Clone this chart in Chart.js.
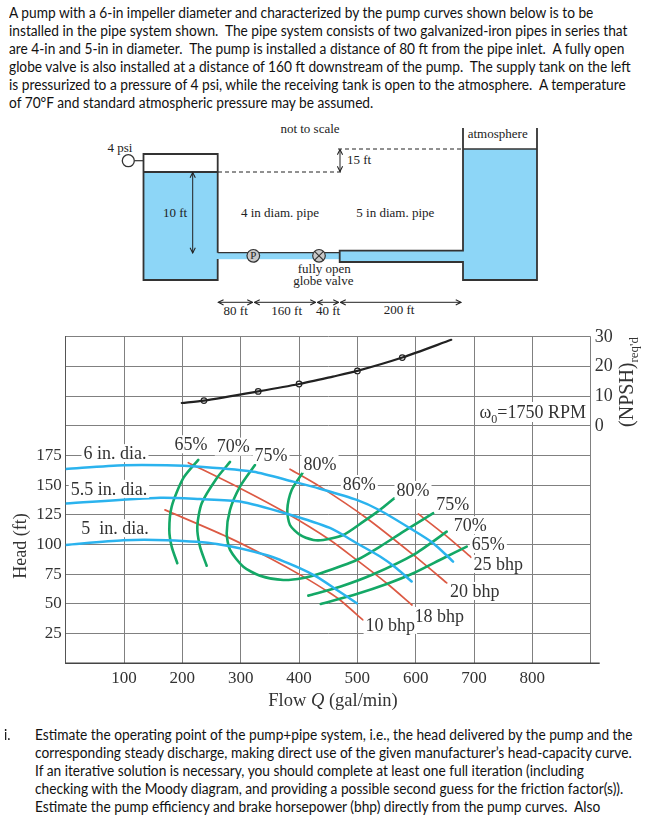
<!DOCTYPE html>
<html>
<head>
<meta charset="utf-8">
<title>Pump and pipe system</title>
<script src="https://cdn.jsdelivr.net/npm/chart.js@4/dist/chart.umd.min.js"></script>
<style>
  html, body { margin: 0; background: #fff; }
  body { position: relative; width: 672px; height: 821px; overflow: hidden; }
  .para { position: absolute; white-space: nowrap; font-family: Lato, sans-serif; font-size: 14.6px; line-height: 18px; color: #111; transform: scaleX(0.94); transform-origin: left center; }
  .serif { position: absolute; white-space: nowrap; font-family: "Liberation Serif", serif; color: #333; font-size: 18px; line-height: 20px; transform: translate(-50%, -50%); }
  .serif sub { font-size: 12px; line-height: 0; }
  #schematic { position: absolute; left: 0; top: 120px; }
  #schematic text { font-family: "Liberation Serif", serif; font-size: 13px; fill: #222; text-anchor: middle; dominant-baseline: middle; transform: translateY(1.5px); }
  #pumpChart { position: absolute; left: 0; top: 322px; }
</style>
</head>
<body>

<div class="para" style="left:9px;top:4px">A pump with a 6-in impeller diameter and characterized by the pump curves shown below is to be</div>
<div class="para" style="left:9px;top:22px">installed in the pipe system shown.&nbsp; The pipe system consists of two galvanized-iron pipes in series that</div>
<div class="para" style="left:9px;top:40px">are 4-in and 5-in in diameter.&nbsp; The pump is installed a distance of 80 ft from the pipe inlet.&nbsp; A fully open</div>
<div class="para" style="left:9px;top:58px">globe valve is also installed at a distance of 160 ft downstream of the pump.&nbsp; The supply tank on the left</div>
<div class="para" style="left:9px;top:76px">is pressurized to a pressure of 4 psi, while the receiving tank is open to the atmosphere.&nbsp; A temperature</div>
<div class="para" style="left:9px;top:94px">of 70°F and standard atmospheric pressure may be assumed.</div>

<!-- tanks and pipe run, not to scale -->
<svg id="schematic" width="672" height="200" viewBox="0 120 672 200">
  <defs>
    <marker id="tip" viewBox="0 0 8 8" refX="7" refY="4" markerWidth="7" markerHeight="7" orient="auto-start-reverse">
      <path d="M1 1 L7 4 L1 7" fill="none" stroke="#222" stroke-width="1.2"/>
    </marker>
  </defs>
  <rect x="143.5" y="172" width="74" height="108" fill="#8dd6f7"/>
  <rect x="463" y="149" width="74" height="131" fill="#8dd6f7"/>
  <rect x="217" y="252.7" width="123" height="6.5" fill="#8dd6f7"/>
  <rect x="339.7" y="251" width="123.5" height="11" fill="#8dd6f7"/>
  <g fill="none" stroke="#333" stroke-width="1.8">
    <path d="M217.7 252.7 V154 H143.5 V280 H217.7 V259"/>
    <path d="M143.5 172 H217.7"/>
    <path d="M463 128 V250.7 H339.7 V262 H463 V280 H537 V128"/>
    <path d="M463 149 H537" stroke-width="1.5"/>
    <path d="M217.7 252.7 H339.7" stroke-width="1.2"/>
    <path d="M143.5 160.7 H134.5" stroke-width="1.2"/>
  </g>
  <circle cx="128.3" cy="160.7" r="6" fill="#fff" stroke="#333" stroke-width="1.3"/>
  <g fill="none" stroke="#222" stroke-width="1" stroke-dasharray="4 3">
    <path d="M218 172 H343"/>
    <path d="M338 149 H463"/>
  </g>
  <g fill="none" stroke="#222" stroke-width="1" marker-start="url(#tip)" marker-end="url(#tip)">
    <path d="M340 149.5 V171.5"/>
    <path d="M192.7 172.5 V253"/>
    <path d="M218.3 302.3 H252.5"/>
    <path d="M254.5 302.3 H315.5"/>
    <path d="M317.5 302.3 H338.5"/>
    <path d="M340.5 302.3 H461"/>
  </g>
  <circle cx="253.3" cy="255.8" r="6.3" fill="#c9c9c9" stroke="#333" stroke-width="1.2"/>
  <circle cx="319" cy="255.8" r="6.3" fill="#c9c9c9" stroke="#333" stroke-width="1.2"/>
  <path d="M314.6 251.4 L323.4 260.2 M323.4 251.4 L314.6 260.2" stroke="#333" stroke-width="1.1"/>
  <text x="253.3" y="255" style="font-size:11px">P</text>
  <text x="310" y="128.5">not to scale</text>
  <text x="120" y="148">4 psi</text>
  <text x="497.7" y="134">atmosphere</text>
  <text x="359" y="160">15 ft</text>
  <text x="175" y="212.5">10 ft</text>
  <text x="280" y="212.5">4 in diam. pipe</text>
  <text x="395.3" y="212.5">5 in diam. pipe</text>
  <text x="324.3" y="269">fully open</text>
  <text x="323.3" y="281">globe valve</text>
  <text x="235.7" y="310.7">80 ft</text>
  <text x="286.7" y="310.7">160 ft</text>
  <text x="328" y="310.7">40 ft</text>
  <text x="399" y="310">200 ft</text>
</svg>

<canvas id="pumpChart" width="672" height="392"></canvas>

<div class="serif" style="left:20px;top:546px;transform:translate(-50%,-50%) rotate(-90deg)">Head (ft)</div>
<div class="serif" style="left:626px;top:382px;font-size:20px;transform:translate(-50%,-50%) rotate(-90deg)">(NPSH)<sub style="font-size:13px">req'd</sub></div>
<div class="serif" style="left:333px;top:700px;font-size:18.5px">Flow <i>Q</i> (gal/min)</div>
<div class="serif" style="left:532.7px;top:411.7px;background:#fff;padding:0 2px">ω<sub>0</sub>=1750 RPM</div>

<div class="para" style="left:4px;top:726px">i.</div>
<div class="para" style="left:35px;top:726px">Estimate the operating point of the pump+pipe system, i.e., the head delivered by the pump and the</div>
<div class="para" style="left:35px;top:744px">corresponding steady discharge, making direct use of the given manufacturer’s head-capacity curve.</div>
<div class="para" style="left:35px;top:762px">If an iterative solution is necessary, you should complete at least one full iteration (including</div>
<div class="para" style="left:35px;top:780px">checking with the Moody diagram, and providing a possible second guess for the friction factor(s)).</div>
<div class="para" style="left:35px;top:798px">Estimate the pump efficiency and brake horsepower (bhp) directly from the pump curves.&nbsp; Also</div>

<script>
// head-capacity curves, one per impeller size (Q in gal/min, H in ft)
const head6Q = [0, 100, 173, 230, 322, 390, 436, 499, 539, 590, 630, 664]
const head6H = [163.7, 166.8, 166.8, 165.6, 161.4, 153, 147, 137.6, 128.7, 113.8, 101.2, 85.7]
const head55Q = [0, 162, 230, 299, 379, 453, 499, 539, 567, 593]
const head55H = [134.5, 139.4, 138.3, 136.3, 126, 114, 101.1, 89.9, 80.1, 68.9]
const head5Q = [0, 99, 173, 259, 345, 402, 430, 465, 499]
const head5H = [99.7, 103.6, 103.6, 100.5, 91, 80, 73, 61.8, 50.6]

// efficiency contours
const eff65LeftQ = [227.3, 201.6, 181.7, 177.6, 181.7, 191.3]
const eff65LeftH = [171.3, 155.9, 132, 112.3, 98.3, 84.3]
const eff70LeftQ = [281.7, 258.9, 233.2, 225.6, 230.2, 241.7]
const eff70LeftH = [169.6, 155.9, 134.8, 115.1, 98.3, 82.2]
const eff75Q = [324.5, 298.8, 281.7, 276, 281.7, 304.5, 333, 373, 407.3, 436, 498.9, 538.8, 578.8, 630.2]
const eff75H = [167, 148.8, 129.2, 109.5, 95.5, 81.4, 73.8, 70.2, 71.9, 75.7, 87, 98.3, 110.9, 126.4]
const eff80Q = [406.3, 387.4, 379.9, 384.5, 401.7, 424.5, 441.6, 475.9, 510.2, 538.8, 563.3]
const eff80H = [160.6, 146, 129.2, 116.5, 108.1, 103.9, 103.9, 108.1, 119.3, 129.2, 139]
const eff70RightQ = [415.9, 470.3, 527.3, 595.9, 653.2]
const eff70RightH = [57, 64.5, 75, 91.3, 110.9]
const eff65RightQ = [437.2, 498.9, 550.3, 595.9, 647.3, 687.5]
const eff65RightH = [50, 58.4, 66.8, 75.8, 88.5, 98.3]

// brake horsepower lines
const bhp10Q = [170.2, 276, 350.3, 407.3, 453.1, 470.3, 509.7]
const bhp10H = [129.2, 106.7, 88.5, 73, 59.2, 53.3, 36.5]
const bhp18Q = [210.2, 298.8, 378.9, 453.1, 498.9, 550.3, 593.7]
const bhp18H = [169, 147.5, 126.4, 103.9, 87, 67.4, 49.1]
const bhp20Q = [384.5, 436, 516, 595.9, 653.2]
const bhp20H = [163.5, 148.8, 122.2, 91.3, 67.7]
const bhp25Q = [604.5, 650.3, 695]
const bhp25H = [125.8, 108.1, 89.3]

// required NPSH, read on the right hand axis
const npshQ = [199, 237, 330, 400, 458, 500, 577, 661]
const npshVal = [7.7, 8.5, 11.6, 14.1, 16.6, 18.5, 23, 29]
const npshMarkQ = [237, 330, 400, 500, 577]
const npshMarkVal = [8.5, 11.6, 14.1, 18.5, 23]

const headTicks = [25, 50, 75, 100, 125, 150, 175]
const npshTicks = [0, 10, 20, 30]
const flowTicks = [100, 200, 300, 400, 500, 600, 700, 800]

// curve labels, placed in chart units
const labelTexts = ['6 in. dia.', '5.5 in. dia.', '5  in. dia.', '65%', '70%', '75%', '80%', '86%', '80%', '75%', '70%', '65%', '25 bhp', '20 bhp', '18 bhp', '10 bhp']
const labelQ = [84.5, 74.2, 84.5, 214.8, 287.3, 352, 436, 503.3, 595.4, 663.5, 693.6, 724.5, 741.6, 701.2, 640.5, 556.5]
const labelH = [177, 146.9, 113.8, 184.5, 182.5, 175.5, 168, 151, 146, 134, 116.3, 100.5, 83.7, 60.9, 39.9, 32.3]

const BLUE = '#2bb3ee'
const GREEN = '#14a866'
const RED = '#dc5a44'
const SERIF = '"Liberation Serif", serif'

function curve(xs, ys, color, width, axis) {
    return {
        data: xs.map((x, i) => ({ x: x, y: ys[i] })),
        showLine: true,
        borderColor: color,
        borderWidth: width,
        borderCapStyle: 'round',
        pointRadius: 0,
        tension: 0.25,
        fill: false,
        yAxisID: axis || 'y'
    }
}

// white backed text over the grid, after the curves so they keep their gaps
const curveLabels = {
    id: 'curveLabels',
    afterDatasetsDraw(chart) {
        const ctx = chart.ctx
        const sx = chart.scales.x
        const sy = chart.scales.y
        ctx.save()
        ctx.font = '18px ' + SERIF
        ctx.textAlign = 'center'
        ctx.textBaseline = 'middle'
        labelTexts.forEach((t, i) => {
            const px = sx.getPixelForValue(labelQ[i])
            const py = sy.getPixelForValue(labelH[i])
            const w = ctx.measureText(t).width + 4
            ctx.fillStyle = '#fff'
            ctx.fillRect(px - w / 2, py - 9, w, 18)
            ctx.fillStyle = '#333'
            ctx.fillText(t, px, py + 1)
        })
        // the bottom rule runs a little past the last grid line
        ctx.strokeStyle = '#444'
        ctx.lineWidth = 1.5
        ctx.beginPath()
        ctx.moveTo(chart.chartArea.left, chart.chartArea.bottom)
        ctx.lineTo(chart.chartArea.right + 9, chart.chartArea.bottom)
        ctx.stroke()
        ctx.restore()
    }
}

const tickFont = { family: SERIF, size: 17 }

new Chart(document.getElementById('pumpChart').getContext('2d'), {
    type: 'scatter',
    data: {
        datasets: [
            curve(head6Q, head6H, BLUE, 2.5),
            curve(head55Q, head55H, BLUE, 2.5),
            curve(head5Q, head5H, BLUE, 2.5),
            curve(eff65LeftQ, eff65LeftH, GREEN, 2.6),
            curve(eff70LeftQ, eff70LeftH, GREEN, 2.6),
            curve(eff75Q, eff75H, GREEN, 2.6),
            curve(eff80Q, eff80H, GREEN, 2.6),
            curve(eff70RightQ, eff70RightH, GREEN, 2.6),
            curve(eff65RightQ, eff65RightH, GREEN, 2.6),
            curve(bhp10Q, bhp10H, RED, 1.7),
            curve(bhp18Q, bhp18H, RED, 1.7),
            curve(bhp20Q, bhp20H, RED, 1.7),
            curve(bhp25Q, bhp25H, RED, 1.7),
            curve(npshQ, npshVal, '#222', 2.2, 'y1'),
            {
                data: npshMarkQ.map((x, i) => ({ x: x, y: npshMarkVal[i] })),
                yAxisID: 'y1',
                pointRadius: 2.8,
                pointBackgroundColor: '#fff',
                pointBorderColor: '#222',
                pointBorderWidth: 1.2
            }
        ]
    },
    options: {
        responsive: false,
        animation: false,
        layout: { padding: { top: 13.7, left: 0, right: 0, bottom: 0 } },
        plugins: { legend: { display: false }, tooltip: { enabled: false } },
        scales: {
            x: {
                type: 'linear',
                min: 0,
                max: 900,
                afterBuildTicks(axis) { axis.ticks = [0, ...flowTicks, 900].map(v => ({ value: v })) },
                afterFit(axis) { axis.height = 392 - 341.3 },
                grid: { color: '#808080', lineWidth: 1, drawTicks: false },
                border: { color: '#808080' },
                ticks: {
                    font: tickFont,
                    color: '#333',
                    padding: 5,
                    maxRotation: 0,
                    autoSkip: false,
                    callback: v => flowTicks.includes(v) ? v : ''
                }
            },
            y: {
                min: 0,
                max: 275,
                afterBuildTicks(axis) {
                    const vals = []
                    for (let v = 0; v <= 275; v += 25) vals.push(v)
                    axis.ticks = vals.map(v => ({ value: v }))
                },
                afterFit(axis) { axis.width = 65.7 },
                grid: { color: '#808080', lineWidth: 1, drawTicks: false },
                border: { color: '#555' },
                ticks: {
                    font: tickFont,
                    color: '#333',
                    padding: 4,
                    autoSkip: false,
                    callback: v => headTicks.includes(v) ? v : ''
                }
            },
            y1: {
                position: 'right',
                min: -80,
                max: 30,
                afterBuildTicks(axis) { axis.ticks = npshTicks.map(v => ({ value: v })) },
                afterFit(axis) { axis.width = 672 - 590.7 },
                grid: { drawOnChartArea: false, drawTicks: false },
                border: { display: false },
                ticks: { font: { family: SERIF, size: 18 }, color: '#333', padding: 4 }
            }
        }
    },
    plugins: [curveLabels]
})
</script>
</body>
</html>
